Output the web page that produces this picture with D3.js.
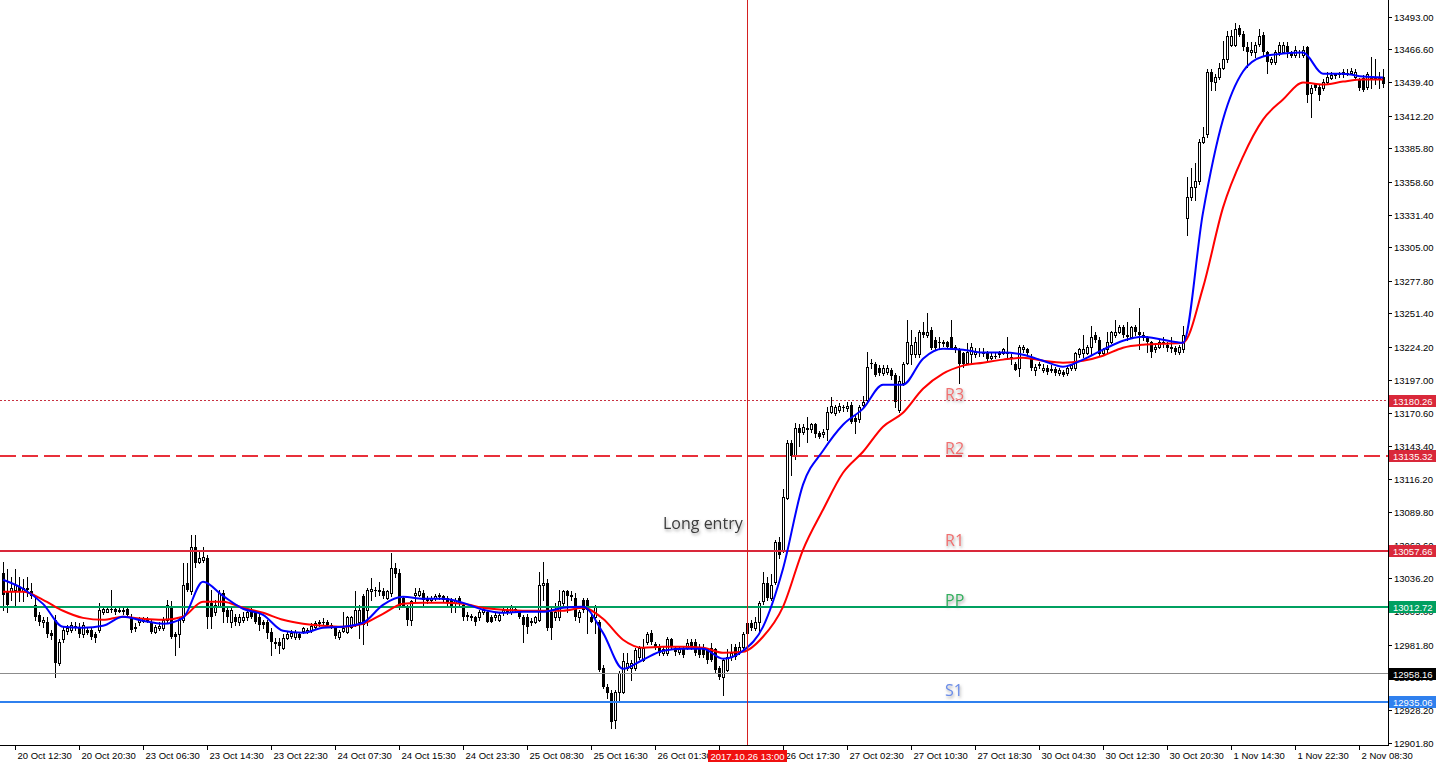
<!DOCTYPE html>
<html><head><meta charset="utf-8">
<script src="https://cdn.jsdelivr.net/npm/d3@7"></script>
<style>
html,body{margin:0;padding:0;background:#fff;overflow:hidden}
svg{display:block}
text{font-family:"Liberation Sans",Arial,sans-serif}
</style></head><body>
<svg id="c" width="1436" height="765"></svg>
<script>
// ---------- DATA (M30 candles) ----------
const open = [
13040,13025,13025,13026,13029,13025,13028,13025,13014,13006,
13000,13000,12991,13002,12967,12986,12993,12994,12996,12996,
12990,12994,12994,12990,12994,13008,13008,13011,13011,13009,
13010,13011,13004,12995,13000,13001,13002,12999,12992,12995,
12995,13002,13013,12990,12990,13002,13032,13025,13061,13049,
13051,13052,13016,13008,13013,13024,13010,13000,13004,13000,
13002,13004,13010,13008,13004,13000,13000,12992,12984,12984,
12979,12987,12989,12988,12990,12993,12992,12994,12996,12999,
13000,13000,12998,12995,12988,12993,12992,12996,12998,13000,
13021,13010,13025,13026,13025,13025,13020,13024,13044,13040,
13020,13013,13002,13022,13022,13024,13019,13018,13020,13021,
13021,13020,13018,13016,13020,13014,13006,13004,13004,13004,
13008,13008,13004,13004,13002,13008,13009,13008,13011,13008,
13004,13004,13000,13000,13002,13030,13032,13008,13004,13004,
13016,13025,13021,13020,13004,13018,13018,13004,13004,13000,
12963,12947,12942,12920,12943,12943,12963,12963,12963,12972,
12969,12984,12991,12982,12980,12975,12975,12986,12979,12976,
12978,12979,12984,12984,12980,12980,12978,12979,12978,12963,
12955,12961,12972,12980,12976,12980,12999,12999,12995,13000,
13017,13032,13020,13033,13065,13059,13101,13146,13135,13158,
13155,13157,13157,13161,13154,13153,13157,13171,13170,13173,
13175,13174,13177,13166,13165,13177,13181,13211,13210,13207,
13203,13204,13205,13201,13173,13195,13211,13218,13218,13218,
13236,13234,13238,13230,13228,13227,13228,13232,13224,13222,
13219,13211,13218,13218,13220,13219,13219,13215,13217,13218,
13219,13220,13216,13210,13207,13222,13222,13215,13205,13209,
13205,13207,13205,13206,13203,13204,13203,13207,13207,13218,
13219,13219,13224,13234,13230,13219,13222,13228,13234,13236,
13240,13234,13232,13240,13236,13232,13232,13228,13222,13224,
13227,13226,13224,13223,13220,13222,13329,13346,13354,13359,
13391,13397,13448,13440,13444,13451,13458,13470,13470,13484,
13479,13468,13464,13464,13471,13478,13464,13456,13456,13464,
13464,13469,13464,13462,13464,13462,13468,13431,13438,13436,
13435,13440,13443,13445,13446,13446,13447,13447,13444,13442,
13443,13436,13443,13442,13443,13444];
const high = [
13049,13043,13037,13043,13037,13035,13037,13032,13021,13008,
13004,13004,12994,13006,12986,12996,12998,13000,13000,12999,
13000,12996,12995,12992,13016,13013,13013,13026,13013,13013,
13013,13013,13007,12999,13004,13004,13004,13002,12998,13000,
13004,13018,13017,12992,13004,13048,13048,13071,13071,13059,
13061,13055,13026,13018,13026,13026,13013,13013,13007,13007,
13008,13010,13013,13010,13007,13002,13002,12995,12987,12987,
12990,12992,12994,12994,12992,12996,12995,12999,13001,13002,
13003,13002,12999,12997,12994,13008,13005,13005,13025,13014,
13023,13028,13036,13029,13033,13028,13026,13056,13048,13043,
13021,13014,13018,13028,13028,13026,13021,13021,13023,13024,
13022,13021,13020,13020,13021,13016,13008,13007,13005,13010,
13013,13009,13006,13008,13008,13012,13012,13014,13013,13010,
13006,13007,13003,13005,13041,13049,13035,13012,13016,13026,
13026,13026,13025,13024,13010,13020,13020,13007,13014,13002,
12965,12950,12945,12945,12960,12975,12975,12969,12979,12981,
12986,12992,12994,12984,12982,12980,12988,12987,12981,12980,
12980,12986,12986,12986,12982,12982,12979,12983,12979,12964,
12971,12978,12982,12982,12984,12992,13002,13002,13004,13017,
13041,13037,13039,13067,13069,13108,13148,13148,13162,13161,
13161,13167,13162,13162,13156,13157,13175,13183,13177,13178,
13177,13179,13179,13169,13177,13184,13220,13214,13212,13209,
13209,13209,13207,13203,13200,13212,13246,13238,13232,13238,
13244,13252,13240,13232,13232,13230,13229,13246,13226,13223,
13220,13227,13227,13223,13223,13223,13221,13219,13219,13221,
13223,13232,13218,13212,13226,13226,13223,13218,13210,13212,
13210,13209,13209,13208,13207,13205,13209,13210,13220,13223,
13234,13226,13241,13236,13232,13223,13236,13237,13246,13242,
13242,13244,13241,13242,13256,13236,13233,13229,13226,13230,
13232,13228,13232,13225,13226,13241,13362,13370,13374,13393,
13403,13450,13450,13446,13455,13473,13481,13482,13488,13486,
13481,13472,13472,13472,13483,13480,13465,13460,13466,13472,
13472,13472,13465,13469,13466,13469,13469,13437,13439,13438,
13442,13448,13448,13447,13448,13450,13450,13451,13450,13443,
13445,13448,13460,13458,13448,13450];
const low = [
13010,13008,13018,13014,13017,13017,13021,13020,13002,12998,
12996,12988,12986,12955,12965,12984,12990,12992,12994,12988,
12988,12990,12986,12984,12992,13007,13008,13008,13007,13008,
13007,13004,12992,12993,12998,13000,13000,12991,12991,12994,
12994,13000,12987,12973,12980,13000,13025,13023,13045,13048,
13049,12995,12995,13006,13012,13000,13000,12996,12998,12998,
13000,13002,13003,12999,12994,12995,12987,12973,12979,12975,
12978,12986,12987,12986,12986,12991,12991,12992,12995,12997,
12998,12996,12995,12987,12986,12992,12991,12995,12997,12987,
12982,12998,13018,13021,13022,13020,13019,13021,13037,13011,
13012,12998,12998,13017,13021,13012,13016,13017,13018,13019,
13017,13014,13008,13008,13014,13002,13002,13002,12998,13002,
13007,13000,13000,13002,13001,13006,13007,13007,13008,13003,
12984,12991,12998,12999,13001,13018,12994,12986,13002,13002,
13014,13008,13018,13002,13000,13008,12991,13000,12991,12960,
12946,12938,12914,12914,12935,12942,12961,12953,12961,12970,
12968,12982,12982,12978,12973,12973,12973,12978,12973,12974,
12972,12978,12978,12973,12972,12972,12967,12968,12959,12954,
12941,12960,12969,12970,12974,12978,12988,12994,12994,12992,
13015,13018,13018,13031,13052,13057,13100,13120,13133,13143,
13153,13147,13155,13151,13150,13151,13148,13170,13169,13171,
13172,13172,13162,13154,13163,13175,13179,13207,13200,13201,
13201,13202,13198,13175,13171,13193,13210,13210,13216,13216,
13232,13232,13222,13222,13222,13225,13223,13222,13220,13195,
13208,13210,13210,13216,13217,13217,13212,13214,13215,13216,
13218,13216,13210,13205,13200,13220,13218,13205,13201,13207,
13204,13202,13204,13201,13201,13200,13201,13205,13205,13216,
13216,13218,13218,13228,13217,13218,13220,13227,13232,13235,
13232,13230,13231,13234,13222,13230,13220,13216,13220,13223,
13224,13221,13220,13218,13218,13220,13315,13344,13344,13357,
13390,13395,13433,13433,13442,13450,13456,13469,13469,13477,
13466,13452,13462,13460,13469,13462,13447,13454,13454,13462,
13463,13460,13460,13460,13460,13460,13423,13411,13433,13425,
13433,13438,13442,13443,13444,13444,13445,13446,13442,13433,
13432,13434,13435,13438,13435,13436];
const close = [
13022,13014,13028,13030,13025,13028,13026,13021,13004,13000,
13002,12990,12989,12967,12984,12994,12995,12998,12997,12990,
12998,12991,12988,12987,13010,13011,13011,13010,13008,13010,
13008,13006,12994,12996,13002,13003,13001,12992,12996,12997,
13002,13014,12988,12988,13002,13030,13026,13061,13048,13052,
13053,13004,13004,13014,13024,13008,13004,13010,13000,13004,
13004,13008,13004,13000,12998,12998,12991,12984,12982,12981,
12987,12990,12991,12992,12987,12995,12994,12997,12999,13000,
12999,12998,12996,12989,12992,12995,13004,13004,13010,13010,
12998,13026,13027,13025,13026,13021,13025,13044,13039,13013,
13013,13002,13017,13024,13025,13018,13017,13020,13021,13022,
13018,13016,13012,13018,13016,13004,13004,13005,13000,13008,
13010,13000,13000,13006,13006,13010,13008,13012,13010,13004,
12998,12996,13001,13004,13030,13032,12995,12995,13008,13017,
13025,13021,13022,13004,13008,13010,13010,13000,13013,12961,
12947,12942,12919,12943,12959,12968,12967,12967,12977,12979,
12979,12990,12984,12980,12975,12978,12986,12980,12976,12978,
12973,12983,12980,12975,12973,12973,12969,12969,12961,12955,
12969,12972,12975,12972,12980,12990,12990,12995,13000,13016,
13032,13020,13030,13065,13055,13102,13146,13135,13158,13154,
13159,13158,13161,13153,13151,13155,13171,13176,13175,13176,
13174,13176,13163,13163,13175,13179,13208,13210,13201,13203,
13207,13207,13200,13179,13196,13210,13228,13226,13228,13236,
13234,13236,13223,13223,13227,13228,13224,13223,13222,13210,
13210,13220,13224,13220,13219,13220,13214,13217,13216,13219,
13222,13218,13214,13205,13224,13224,13219,13207,13208,13210,
13207,13204,13206,13203,13205,13201,13207,13209,13219,13222,
13222,13224,13232,13230,13218,13222,13228,13236,13236,13240,
13234,13232,13240,13236,13234,13234,13228,13220,13224,13228,
13228,13223,13222,13220,13224,13234,13346,13354,13359,13391,
13395,13448,13440,13444,13451,13458,13477,13477,13483,13478,
13468,13464,13466,13470,13477,13464,13456,13458,13464,13470,
13470,13464,13461,13466,13463,13466,13429,13435,13435,13429,
13440,13444,13445,13446,13447,13448,13447,13449,13448,13435,
13433,13446,13442,13443,13441,13438];

// moving averages, read every 5th bar
const maStep = 5;
const maFast = [
13034.5,13027.2,13014.9,12996.2,12995.4,12997.0,13004.4,13001.1,12998.7,13003.5,
13032.9,13021.4,13010.9,13006.0,12993.0,12991.3,12995.4,12996.2,12999.5,13014.1,
13020.6,13019.0,13019.0,13015.7,13010.1,13007.6,13008.4,13008.4,13011.7,13012.5,
12991.3,12962.0,12969.4,12976.7,12978.3,12978.3,12970.2,12976.7,12996.2,13043.5,
13111.9,13139.5,13160.7,13173.8,13193.3,13193.3,13214.5,13222.6,13221.8,13219.4,
13219.4,13217.7,13212.8,13207.9,13213.7,13221.8,13229.1,13232.4,13229.9,13227.5,
13333.4,13409.1,13448.2,13460.4,13462.8,13463.6,13446.5,13446.5,13444.1,13443.3];
const maSlow = [
13024.7,13024.7,13018.2,13009.3,13003.5,13001.9,13004.4,13002.7,13001.9,13004.4,
13016.6,13016.6,13011.7,13007.6,13001.9,12998.7,12997.0,12996.2,12998.7,13006.8,
13014.9,13015.7,13015.7,13014.9,13011.7,13010.1,13009.3,13009.3,13009.3,13011.7,
13002.7,12985.7,12979.1,12979.9,12979.9,12979.1,12975.1,12975.9,12988.1,13012.5,
13058.9,13091.5,13121.6,13138.7,13159.1,13170.5,13190.0,13202.3,13208.8,13211.2,
13213.7,13215.3,13212.8,13211.2,13212.8,13216.9,13223.4,13225.9,13226.7,13227.5,
13272.3,13337.4,13379.0,13409.1,13425.4,13439.2,13437.6,13440.0,13441.7,13441.7];

const levelValues = [13180.26, 13135.32, 13057.66, 13012.72, 12958.16, 12935.06];
const levelNames  = ["R3", "R2", "R1", "PP", "", "S1"];

const priceTicks = [13493.00,13466.60,13439.40,13412.20,13385.80,13358.60,13331.40,13305.00,
  13277.80,13251.40,13224.20,13197.00,13170.60,13143.40,13116.20,13089.80,13062.60,
  13036.20,13009.00,12981.80,12955.40,12928.20,12901.80];

const timeLabels = ["20 Oct 12:30","20 Oct 20:30","23 Oct 06:30","23 Oct 14:30","23 Oct 22:30",
  "24 Oct 07:30","24 Oct 15:30","24 Oct 23:30","25 Oct 08:30","25 Oct 16:30","26 Oct 01:30",
  "26 Oct 09:30","26 Oct 17:30","27 Oct 02:30","27 Oct 10:30","27 Oct 18:30","30 Oct 04:30",
  "30 Oct 12:30","30 Oct 20:30","1 Nov 14:30","1 Nov 22:30","2 Nov 08:30"];
const timeLabelFirstBar = 3, timeLabelEvery = 16;

const crossBar = 186, crossLabel = "2017.10.26 13:00";
const noteText = "Long entry";

// ---------- STYLES ----------
const levelStyle = [
  {stroke:"#c83040", w:1, dash:"2,2", box:"#d9283a", txt:"#f07070", dy:-1},
  {stroke:"#e8303a", w:2, dash:"16,6", box:"#d9283a", txt:"#f07070", dy:-2},
  {stroke:"#d9283a", w:2, dash:null, box:"#d9283a", txt:"#f07070", dy:-5},
  {stroke:"#00a060", w:2, dash:null, box:"#00a060", txt:"#33b060", dy:-1},
  {stroke:"#8c8c8c", w:1, dash:null, box:"#000000", txt:"#000", dy:0},
  {stroke:"#2f80ee", w:2, dash:null, box:"#2f80ee", txt:"#6a8ce8", dy:-6}
];

// ---------- CHART ----------
const plotR = 1388, plotB = 745;
const N = close.length;
const x = d3.scaleLinear().domain([0, N - 1]).range([3, 3 + 4 * (N - 1)]);
const y = d3.scaleLinear().domain([12901.8, 13493.0]).range([742.8, 16.5]);

const svg = d3.select("#c");
const defs = svg.append("defs");
defs.append("clipPath").attr("id", "clip").append("rect")
  .attr("x", 0).attr("y", 0).attr("width", plotR).attr("height", plotB);
const f = defs.append("filter").attr("id", "sh").attr("x", "-30%").attr("y", "-30%")
  .attr("width", "160%").attr("height", "180%");
f.append("feDropShadow").attr("dx", 1).attr("dy", 2).attr("stdDeviation", 1.6)
  .attr("flood-color", "#777").attr("flood-opacity", 0.65);

svg.append("rect").attr("width", 1436).attr("height", 765).attr("fill", "#fff");

const g = svg.append("g").attr("clip-path", "url(#clip)");
const idx = d3.range(N);
const cx = i => Math.round(x(i));

// wicks
g.append("g").selectAll("line").data(idx).join("line")
  .attr("x1", i => cx(i) + 0.5).attr("x2", i => cx(i) + 0.5)
  .attr("y1", i => Math.round(y(high[i])))
  .attr("y2", i => Math.round(y(low[i])) + 1)
  .attr("stroke", "#000").attr("stroke-width", 1);

// bodies
g.append("g").selectAll("rect").data(idx).join("rect")
  .each(function (i) {
    const top = Math.round(y(Math.max(open[i], close[i])));
    const bot = Math.round(y(Math.min(open[i], close[i])));
    const h = Math.max(bot - top, 1);
    const s = d3.select(this);
    if (close[i] > open[i]) {
      s.attr("x", cx(i) - 0.5).attr("y", top + 0.5).attr("width", 2).attr("height", h)
        .attr("fill", "#fff").attr("stroke", "#000").attr("stroke-width", 1);
    } else {
      s.attr("x", cx(i) - 1).attr("y", top).attr("width", 3).attr("height", h)
        .attr("fill", "#000");
    }
  });

// level lines
levelValues.forEach((v, k) => {
  const st = levelStyle[k];
  const yy = st.w === 2 ? Math.round(y(v)) : Math.round(y(v)) - 0.5;
  const ln = g.append("line").attr("x1", 0).attr("x2", plotR).attr("y1", yy).attr("y2", yy)
    .attr("stroke", st.stroke).attr("stroke-width", st.w);
  if (st.dash) ln.attr("stroke-dasharray", st.dash);
});

// moving averages
const maLine = d3.line().x((d, i) => x(i * maStep)).y(d => y(d)).curve(d3.curveMonotoneX);
g.append("path").attr("d", maLine(maSlow)).attr("fill", "none")
  .attr("stroke", "#ff0000").attr("stroke-width", 2);
g.append("path").attr("d", maLine(maFast)).attr("fill", "none")
  .attr("stroke", "#0000ff").attr("stroke-width", 2);

// level labels
levelValues.forEach((v, k) => {
  if (!levelNames[k]) return;
  const st = levelStyle[k];
  svg.append("text").attr("x", 945).attr("y", Math.round(y(v)) + st.dy)
    .attr("fill", st.txt).attr("filter", "url(#sh)")
    .style("font-family", "'Open Sans','Noto Sans',sans-serif").style("font-size", "16px")
    .text(levelNames[k]);
});

// note
svg.append("text").attr("x", 663).attr("y", 529).attr("fill", "#3c3c3c").attr("filter", "url(#sh)")
  .style("font-family", "'Open Sans','Noto Sans',sans-serif").style("font-size", "16px")
  .text(noteText);

// crosshair vertical line
const cX = cx(crossBar) + 0.5;
svg.append("line").attr("x1", cX).attr("x2", cX).attr("y1", 0).attr("y2", plotB + 1)
  .attr("stroke", "#d42020").attr("stroke-width", 1);

// axes lines
svg.append("line").attr("x1", plotR + 0.5).attr("x2", plotR + 0.5).attr("y1", 0).attr("y2", plotB + 1)
  .attr("stroke", "#000");
svg.append("line").attr("x1", 0).attr("x2", plotR + 1).attr("y1", plotB + 0.5).attr("y2", plotB + 0.5)
  .attr("stroke", "#000");

// right axis ticks
const ya = svg.append("g");
priceTicks.forEach(v => {
  const yy = Math.round(y(v)) + 0.5;
  ya.append("line").attr("x1", plotR + 1).attr("x2", plotR + 4).attr("y1", yy).attr("y2", yy).attr("stroke", "#000");
  ya.append("text").attr("x", plotR + 6).attr("y", yy + 3.5).attr("fill", "#000")
    .style("font-size", "9.5px").text(d3.format(".2f")(v));
});

// crosshair time box extent (labels fully hidden behind it are not drawn)
const boxL = cX - 39.5, boxR = cX + 39.5;

// bottom axis ticks
const xa = svg.append("g");
timeLabels.forEach((t, k) => {
  const b = timeLabelFirstBar + k * timeLabelEvery;
  const xx = cx(b) + 0.5;
  xa.append("line").attr("x1", xx).attr("x2", xx).attr("y1", plotB).attr("y2", plotB + 5).attr("stroke", "#000");
  const tx = xa.append("text").attr("x", xx + 2).attr("y", 759).attr("fill", "#000")
    .style("font-size", "9.5px").text(t);
  const w = tx.node().getComputedTextLength();
  if (xx + 2 >= boxL && xx + 2 + w <= boxR) tx.remove();
});

// crosshair time box
svg.append("rect").attr("x", boxL).attr("y", 750).attr("width", boxR - boxL).attr("height", 12).attr("fill", "#f01010");
svg.append("text").attr("x", cX).attr("y", 759.5).attr("text-anchor", "middle").attr("fill", "#fff")
  .style("font-size", "9.5px").text(crossLabel);

// price boxes on the right axis
levelValues.forEach((v, k) => {
  const st = levelStyle[k];
  const yy = Math.round(y(v));
  svg.append("rect").attr("x", plotR + 1).attr("y", yy - 6).attr("width", 1436 - plotR - 1).attr("height", 12)
    .attr("fill", st.box);
  svg.append("text").attr("x", plotR + 5).attr("y", yy + 3.5).attr("fill", "#fff")
    .style("font-size", "9.5px").text(d3.format(".2f")(v));
});
</script>
</body></html>
